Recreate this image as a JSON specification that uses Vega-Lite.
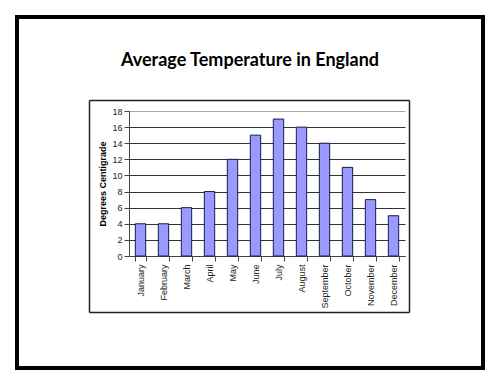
{
  "$schema": "https://vega.github.io/schema/vega-lite/v6.json",
  "width": 466,
  "height": 351,
  "autosize": {"type": "none"},
  "padding": {"left": 17, "top": 17, "right": 17, "bottom": 18},
  "background": "white",
  "title": {"text": "Average Temperature in England", "font": "Lato", "fontSize": 18, "fontWeight": "bold", "color": "black", "anchor": "middle", "frame": "group", "offset": -53},
  "config": {
    "view": {"stroke": "black", "strokeWidth": 4},
    "axis": {"labelFont": "Liberation Sans", "titleFont": "Liberation Sans"}
  },
  "data": {"values": [
    {"month": "January", "temp": 4},
    {"month": "February", "temp": 4},
    {"month": "March", "temp": 6},
    {"month": "April", "temp": 8},
    {"month": "May", "temp": 12},
    {"month": "June", "temp": 15},
    {"month": "July", "temp": 17},
    {"month": "August", "temp": 16},
    {"month": "September", "temp": 14},
    {"month": "October", "temp": 11},
    {"month": "November", "temp": 7},
    {"month": "December", "temp": 5}
  ]},
  "layer": [
    {
      "mark": {"type": "bar", "fill": "#9999ff", "stroke": "#1a1a4d", "strokeWidth": 1},
      "encoding": {
        "x": {"field": "month", "type": "nominal", "sort": null,
          "scale": {"range": [112, 388], "paddingInner": 0.55, "paddingOuter": 0.275},
          "axis": {"title": null, "labelAngle": 270, "labelFontSize": 9, "labelColor": "#222", "tickBand": "extent", "tickColor": "#444", "tickSize": 5, "domainColor": "#444", "offset": -112, "labelPadding": 3, "grid": false}},
        "y": {"field": "temp", "type": "quantitative",
          "scale": {"domain": [0, 18], "range": [239, 94]},
          "axis": {"title": "Degrees Centigrade", "titleFontSize": 9, "titleFontWeight": "bold", "titleColor": "black", "values": [0, 2, 4, 6, 8, 10, 12, 14, 16, 18], "grid": true,
            "gridColor": {"condition": {"test": "datum.value === 18", "value": "#aaaaaa"}, "value": "#333333"}, "gridOpacity": 1,
            "domainColor": "#444", "tickColor": "#444", "tickSize": 5, "labelFontSize": 9, "labelColor": "#222", "offset": -112}}
      }
    },
    {
      "mark": {"type": "point", "opacity": 0, "size": 0, "clip": true},
      "encoding": {
        "x": {"field": "temp", "type": "quantitative", "scale": {"domain": [0, 18], "range": [72, 392]},
          "axis": {"orient": "bottom", "offset": -56, "labels": false, "ticks": false, "grid": false, "title": null, "domainColor": "#222", "domainWidth": 1.5}},
        "y": {"field": "temp", "type": "quantitative", "scale": {"domain": [0, 18], "range": [295, 83]},
          "axis": {"orient": "left", "offset": -72, "labels": false, "ticks": false, "grid": false, "title": null, "domainColor": "#222", "domainWidth": 1.5}}
      }
    },
    {
      "mark": {"type": "point", "opacity": 0, "size": 0, "clip": true},
      "encoding": {
        "x": {"field": "temp", "type": "quantitative", "scale": {"domain": [0, 18], "range": [72, 392]},
          "axis": {"orient": "top", "offset": -83, "labels": false, "ticks": false, "grid": false, "title": null, "domainColor": "#222", "domainWidth": 1.5}},
        "y": {"field": "temp", "type": "quantitative", "scale": {"domain": [0, 18], "range": [295, 83]},
          "axis": {"orient": "right", "offset": -74, "labels": false, "ticks": false, "grid": false, "title": null, "domainColor": "#222", "domainWidth": 1.5}}
      }
    }
  ],
  "resolve": {"scale": {"x": "independent", "y": "independent"}, "axis": {"x": "independent", "y": "independent"}}
}
